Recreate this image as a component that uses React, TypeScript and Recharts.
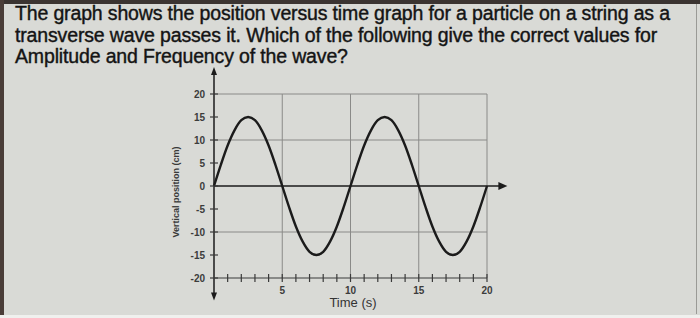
import React from "react";
import {
  LineChart,
  Line,
  XAxis,
  YAxis,
  ReferenceLine,
  ReferenceDot,
} from "recharts";

// values, every half second
const TIMES = [
  0, 0.5, 1, 1.5, 2, 2.5, 3, 3.5, 4, 4.5, 5, 5.5, 6, 6.5, 7, 7.5, 8, 8.5, 9, 9.5,
  10, 10.5, 11, 11.5, 12, 12.5, 13, 13.5, 14, 14.5, 15, 15.5, 16, 16.5, 17, 17.5,
  18, 18.5, 19, 19.5, 20,
];
const POSITIONS = [
  0, 4.6, 8.8, 12.1, 14.3, 15, 14.3, 12.1, 8.8, 4.6, 0, -4.6, -8.8, -12.1, -14.3,
  -15, -14.3, -12.1, -8.8, -4.6, 0, 4.6, 8.8, 12.1, 14.3, 15, 14.3, 12.1, 8.8, 4.6,
  0, -4.6, -8.8, -12.1, -14.3, -15, -14.3, -12.1, -8.8, -4.6, 0,
];
const Y_TICKS = [-20, -15, -10, -5, 0, 5, 10, 15, 20];
const X_TICKS = [
  0, 1, 2, 3, 4, 5, 6, 7, 8, 9, 10, 11, 12, 13, 14, 15, 16, 17, 18, 19, 20,
];
const X_LABELS = [5, 10, 15, 20];
const GRID_Y = [20, 10, -10];
const GRID_X = [5, 10, 15, 20];

const QUESTION = [
  "The graph shows the position versus time graph for a particle on a string as a",
  "transverse wave passes it. Which of the following give the correct values for",
  "Amplitude and Frequency of the wave?",
];

const data = TIMES.map((t, i) => ({ t, y: POSITIONS[i] }));

const INK = "#1b1b1b";
const AXIS = "#3a3a3a";
const GRID = "#8a8a88";
const LABEL = "#3c3c3c";
const BG = "#d9dad6";

function YTick({ x, y, payload }: any) {
  return (
    <g>
      <line x1={x - 4} x2={x + 4} y1={y} y2={y} stroke={AXIS} strokeWidth={1.2} />
      <text
        x={x - 9}
        y={y}
        dy={3.5}
        textAnchor="end"
        fontSize={10}
        fontWeight="bold"
        fill={LABEL}
        fontFamily="Liberation Sans, Arial, sans-serif"
      >
        {payload.value}
      </text>
    </g>
  );
}

function XTick({ x, y, payload }: any) {
  const v = payload.value;
  return (
    <g>
      {v > 0 && (
        <line x1={x} x2={x} y1={y - 4} y2={y + 4} stroke={AXIS} strokeWidth={1.2} />
      )}
      {X_LABELS.includes(v) && (
        <text
          x={x}
          y={y + 16}
          textAnchor="middle"
          fontSize={10}
          fontWeight="bold"
          fill={LABEL}
          fontFamily="Liberation Sans, Arial, sans-serif"
        >
          {v}
        </text>
      )}
    </g>
  );
}

const arrowRight = ({ cx, cy }: any) => (
  <polygon points={`${cx + 4},${cy} ${cx - 5},${cy - 4} ${cx - 5},${cy + 4}`} fill={INK} />
);
const arrowDown = ({ cx, cy }: any) => (
  <polygon points={`${cx},${cy + 4} ${cx - 3},${cy - 4} ${cx + 3},${cy - 4}`} fill={INK} />
);
const arrowUp = ({ cx, cy }: any) => (
  <polygon points={`${cx},${cy - 4} ${cx - 3},${cy + 4} ${cx + 3},${cy + 4}`} fill={INK} />
);

export default function App() {
  return (
    <div
      style={{
        position: "absolute",
        left: 0,
        top: 0,
        width: 700,
        height: 318,
        overflow: "hidden",
        background: BG,
        fontFamily: "Liberation Sans, Arial, sans-serif",
      }}
    >
      {/* dark monitor edges from the photo */}
      <div style={{ position: "absolute", left: 0, top: 0, width: 700, height: 4, background: "#3b3431" }} />
      <div style={{ position: "absolute", left: 0, top: 0, width: 4, height: 318, background: "#4a3d38" }} />
      <div style={{ position: "absolute", left: 696, top: 4, width: 1, height: 310, background: "#9a9a96" }} />
      <div style={{ position: "absolute", left: 0, top: 315, width: 700, height: 3, background: "#f0f0ee" }} />

      <div
        style={{
          position: "absolute",
          left: 15,
          top: 3,
          fontSize: 19.5,
          lineHeight: "21.5px",
          color: "#141414",
          whiteSpace: "nowrap",
          letterSpacing: -0.15,
          WebkitTextStroke: "0.4px #141414",
        }}
      >
        {QUESTION.map((l) => (
          <div key={l}>{l}</div>
        ))}
      </div>

      <div style={{ position: "absolute", left: 0, top: 0 }}>
        <LineChart
          width={700}
          height={318}
          data={data}
          margin={{ top: 94, right: 213, bottom: 10, left: 174 }}
        >
          <XAxis
            dataKey="t"
            type="number"
            domain={[0, 20]}
            ticks={X_TICKS}
            interval={0}
            tick={<XTick />}
            tickSize={0}
            tickMargin={0}
            tickLine={false}
            axisLine={{ stroke: AXIS, strokeWidth: 1.2 }}
            height={30}
          />
          <YAxis
            type="number"
            domain={[-20, 20]}
            ticks={Y_TICKS}
            interval={0}
            tick={<YTick />}
            tickSize={0}
            tickMargin={0}
            tickLine={false}
            axisLine={false}
            width={40}
          />
          {GRID_Y.map((v) => (
            <ReferenceLine key={"gy" + v} y={v} stroke={GRID} strokeWidth={1} />
          ))}
          {GRID_X.map((v) => (
            <ReferenceLine key={"gx" + v} x={v} stroke={GRID} strokeWidth={1} />
          ))}
          <ReferenceLine
            segment={[{ x: 0, y: 0 }, { x: 21, y: 0 }]}
            stroke={INK}
            strokeWidth={1.5}
            ifOverflow="visible"
          />
          <ReferenceLine
            segment={[{ x: 0, y: 24.5 }, { x: 0, y: -23.5 }]}
            stroke={INK}
            strokeWidth={1.5}
            ifOverflow="visible"
          />
          <ReferenceDot x={21.2} y={0} r={4} ifOverflow="visible" shape={arrowRight} />
          <ReferenceDot x={0} y={-24} r={4} ifOverflow="visible" shape={arrowDown} />
          <ReferenceDot x={0} y={25} r={4} ifOverflow="visible" shape={arrowUp} />
          <Line
            dataKey="y"
            type="monotone"
            stroke={INK}
            strokeWidth={2.4}
            dot={false}
            isAnimationActive={false}
          />
        </LineChart>
      </div>

      <div
        style={{
          position: "absolute",
          left: 322,
          top: 295,
          width: 62,
          textAlign: "center",
          fontSize: 13,
          color: "#333",
          whiteSpace: "nowrap",
        }}
      >
        Time (s)
      </div>
      <div
        style={{
          position: "absolute",
          left: 176,
          top: 192,
          transform: "translate(-50%, -50%) rotate(-90deg)",
          fontSize: 9,
          fontWeight: "bold",
          color: "#3a3a3a",
          whiteSpace: "nowrap",
        }}
      >
        Vertical position (cm)
      </div>
    </div>
  );
}
